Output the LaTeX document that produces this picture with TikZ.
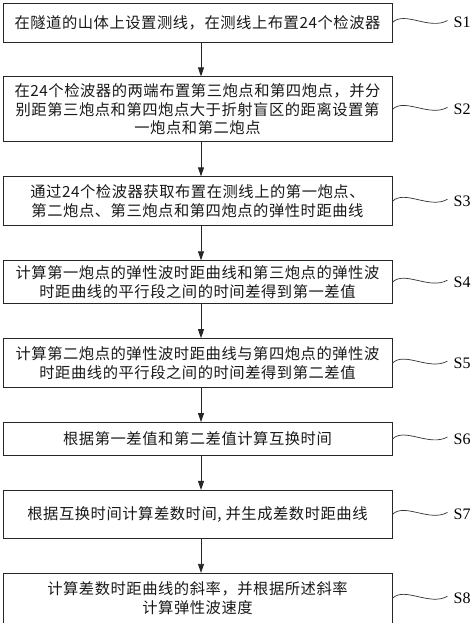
\documentclass[tikz,border=0pt]{standalone}
\usepackage{fontspec}
\setmainfont{Liberation Serif}
\newfontfamily\cjk[LetterSpace=3.5]{Noto Sans CJK SC}
\usetikzlibrary{arrows.meta,positioning}
\tikzset{
  blk/.style={draw=black!85, line width=0.9pt, minimum width=389pt, inner sep=2pt, align=center,
    font=\cjk\fontsize{15.3}{18.5}\selectfont, text=black!90},
  arr/.style={-{Triangle[length=9pt,width=6pt]}, line width=0.8pt, black!85},
  tag/.style={inner sep=0pt, font=\fontsize{16}{16}\selectfont},
  wav/.style={line width=0.7pt, black!80},
}

\begin{document}
\begin{tikzpicture}[node distance=34pt]
  \useasboundingbox (0,0) rectangle (474pt,-623pt);
  \node[blk, minimum height=39pt] (b1) at (197.5pt,-22.5pt) {在隧道的山体上设置测线，在测线上布置24个检波器};
  \node[blk, minimum height=65pt, below=of b1] (b2) {在24个检波器的两端布置第三炮点和第四炮点，并分\\别距第三炮点和第四炮点大于折射盲区的距离设置第\\一炮点和第二炮点};
  \node[blk, minimum height=49pt, below=of b2] (b3) {通过24个检波器获取布置在测线上的第一炮点、\\第二炮点、第三炮点和第四炮点的弹性时距曲线};
  \node[blk, minimum height=43pt, below=of b3] (b4) {计算第一炮点的弹性波时距曲线和第三炮点的弹性波\\时距曲线的平行段之间的时间差得到第一差值};
  \node[blk, minimum height=49pt, below=of b4] (b5) {计算第二炮点的弹性波时距曲线与第四炮点的弹性波\\时距曲线的平行段之间的时间差得到第二差值};
  \node[blk, minimum height=33pt, below=of b5] (b6) {根据第一差值和第二差值计算互换时间};
  \node[blk, minimum height=48pt, below=of b6] (b7) {根据互换时间计算差数时间, 并生成差数时距曲线};
  \node[blk, minimum height=50pt, below=of b7] (b8) {计算差数时距曲线的斜率，并根据所述斜率\\计算弹性波速度};
  % step labels and their wavy leaders
  \foreach \i in {1,...,8} {
    \node[tag, right=61pt of b\i] (s\i) {S\i};
    \draw[wav] (b\i.east) .. controls +(12pt,12pt) and +(-18pt,-10pt) .. ([xshift=-6pt,yshift=2pt]s\i.west);
  }
  \foreach \a/\b in {b1/b2,b2/b3,b3/b4,b4/b5,b5/b6,b6/b7,b7/b8}
    \draw[arr] ([xshift=3.5pt]\a.south) -- ([xshift=3.5pt]\b.north);
\end{tikzpicture}
\end{document}
